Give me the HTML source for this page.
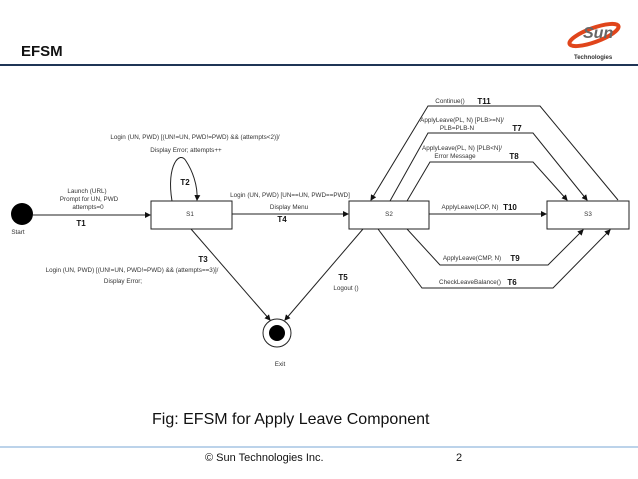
<!DOCTYPE html>
<html><head><meta charset="utf-8"><style>
html,body{margin:0;padding:0;background:#fff;}
svg{display:block;font-family:"Liberation Sans",sans-serif;}
</style></head><body>
<svg width="638" height="479" viewBox="0 0 638 479" xmlns="http://www.w3.org/2000/svg">
<defs><marker id="a" markerWidth="6" markerHeight="6" refX="5" refY="3" orient="auto"><path d="M0,0 L6,3 L0,6z" fill="#111"/></marker></defs>
<text x="21" y="56" font-size="15" font-weight="bold" fill="#111">EFSM</text>
<line x1="0" y1="65" x2="638" y2="65" stroke="#1f3556" stroke-width="2"/>
<ellipse cx="594" cy="35" rx="26" ry="7" fill="none" stroke="#e0451b" stroke-width="4" transform="rotate(-20 594 35)"/>
<text x="583" y="38" font-size="16" font-weight="bold" fill="#666" font-style="italic">Sun</text>
<text x="574" y="59" font-size="6" font-weight="bold" fill="#333">Technologies</text>
<g stroke="#222" stroke-width="1" fill="none">
<rect x="151" y="201" width="81" height="28" fill="#fff"/>
<rect x="349" y="201" width="80" height="28" fill="#fff"/>
<rect x="547" y="201" width="82" height="28" fill="#fff"/>
<line x1="33" y1="215" x2="150" y2="215" marker-end="url(#a)"/>
<path d="M172,201 C166,165 180,150 186,161 C192,170 198,185 197,200" marker-end="url(#a)"/>
<line x1="232" y1="214" x2="348" y2="214" marker-end="url(#a)"/>
<line x1="191" y1="229" x2="270" y2="320" marker-end="url(#a)"/>
<line x1="363" y1="229" x2="285" y2="320" marker-end="url(#a)"/>
<line x1="429" y1="214" x2="546" y2="214" marker-end="url(#a)"/>
<polyline points="618,200 540,106 428,106 371,200" marker-end="url(#a)"/>
<polyline points="390,201 428,133 533,133 587,200" marker-end="url(#a)"/>
<polyline points="407,201 430,162 533,162 567,200" marker-end="url(#a)"/>
<polyline points="407,229 440,265 548,265 583,230" marker-end="url(#a)"/>
<polyline points="378,229 422,288 553,288 610,230" marker-end="url(#a)"/>
<circle cx="277" cy="333" r="14"/>
</g>
<circle cx="22" cy="214" r="11" fill="#000"/>
<circle cx="277" cy="333" r="8" fill="#000"/>
<g font-size="6.3" fill="#333" text-anchor="middle">
<text x="190" y="216">S1</text><text x="389" y="216">S2</text><text x="588" y="216">S3</text>
<text x="18" y="234">Start</text><text x="280" y="366">Exit</text>
<text x="87" y="193">Launch (URL)</text><text x="89" y="201">Prompt for UN, PWD</text><text x="88" y="209">attempts=0</text>
<text x="195" y="139">Login (UN, PWD) [(UN!=UN, PWD!=PWD) &amp;&amp; (attempts&lt;2)]/</text>
<text x="186" y="152">Display Error; attempts++</text>
<text x="290" y="197">Login (UN, PWD) [UN==UN, PWD==PWD]</text>
<text x="289" y="209">Display Menu</text>
<text x="132" y="272">Login (UN, PWD) [(UN!=UN, PWD!=PWD) &amp;&amp; (attempts==3)]/</text>
<text x="123" y="283">Display Error;</text>
<text x="346" y="290">Logout ()</text>
<text x="450" y="103">Continue()</text>
<text x="462" y="122">ApplyLeave(PL, N) [PLB&gt;=N]/</text>
<text x="457" y="130">PLB=PLB-N</text>
<text x="462" y="150">ApplyLeave(PL, N) [PLB&lt;N]/</text>
<text x="455" y="158">Error Message</text>
<text x="470" y="209">ApplyLeave(LOP, N)</text>
<text x="472" y="260">ApplyLeave(CMP, N)</text>
<text x="470" y="284">CheckLeaveBalance()</text>
</g>
<g font-size="8" font-weight="bold" fill="#111" text-anchor="middle">
<text x="81" y="226">T1</text><text x="185" y="185">T2</text><text x="282" y="222">T4</text>
<text x="203" y="262">T3</text><text x="343" y="280">T5</text>
<text x="484" y="104">T11</text><text x="517" y="131">T7</text><text x="514" y="159">T8</text>
<text x="510" y="210">T10</text><text x="515" y="261">T9</text><text x="512" y="285">T6</text>
</g>
<text x="152" y="424" font-size="16" fill="#111">Fig: EFSM for Apply Leave Component</text>
<line x1="0" y1="447" x2="638" y2="447" stroke="#7aa7d6" stroke-width="1"/>
<text x="205" y="461" font-size="11" fill="#111">© Sun Technologies Inc.</text>
<text x="456" y="461" font-size="11" fill="#111">2</text>
</svg>
</body></html>
